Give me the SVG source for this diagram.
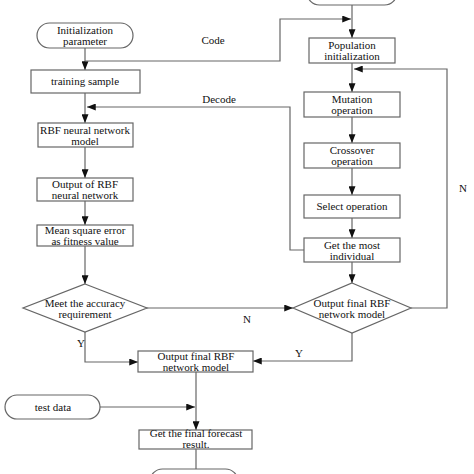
<svg xmlns="http://www.w3.org/2000/svg" width="474" height="474" viewBox="0 0 474 474">
<style>
.n{fill:#fff;stroke:#666;stroke-width:1.2}
.c{fill:none;stroke:#666;stroke-width:1.2}
text{font-family:"Liberation Serif","Times New Roman",serif;font-size:11px;fill:#111;text-anchor:middle}
</style>
<defs>
<marker id="a" viewBox="0 0 10 8" refX="10" refY="4" markerWidth="9" markerHeight="7" markerUnits="userSpaceOnUse" orient="auto">
<path d="M0,0 L10,4 L0,8 z" fill="#111"/>
</marker>
</defs>
<rect width="474" height="474" fill="#fff"/>
<g id="connectors">
<path class="c" d="M85,48 V70" marker-end="url(#a)"/>
<path class="c" d="M85,93 V123" marker-end="url(#a)"/>
<path class="c" d="M85,147 V178" marker-end="url(#a)"/>
<path class="c" d="M85,201 V225" marker-end="url(#a)"/>
<path class="c" d="M85,246 V284" marker-end="url(#a)"/>
<path class="c" d="M85,61 H280 V19 H351" marker-end="url(#a)"/>
<path class="c" d="M352,5 V38" marker-end="url(#a)"/>
<path class="c" d="M352,63 V92" marker-end="url(#a)"/>
<path class="c" d="M352,117 V143" marker-end="url(#a)"/>
<path class="c" d="M352,168 V195" marker-end="url(#a)"/>
<path class="c" d="M352,218 V238" marker-end="url(#a)"/>
<path class="c" d="M352,262 V283" marker-end="url(#a)"/>
<path class="c" d="M304,250 H290 V107 H87" marker-end="url(#a)"/>
<path class="c" d="M146,308 H293" marker-end="url(#a)"/>
<path class="c" d="M411,308 H447 V69 H354" marker-end="url(#a)"/>
<path class="c" d="M352,333 V361 H253" marker-end="url(#a)"/>
<path class="c" d="M85,332 V362 H138" marker-end="url(#a)"/>
<path class="c" d="M196,372 V430" marker-end="url(#a)"/>
<path class="c" d="M100,407 H195" marker-end="url(#a)"/>
<path class="c" d="M196,449 V469"/>
<text x="213" y="44">Code</text>
<text x="219" y="103">Decode</text>
<text x="247" y="323">N</text>
<text x="463" y="192">N</text>
<text x="81" y="347">Y</text>
<text x="299" y="357">Y</text>
</g>
<g id="start">
<rect class="n" x="307" y="-20" width="90" height="25" rx="12.5"/>
</g>
<g id="init">
<rect class="n" x="37" y="23" width="96" height="25" rx="12.5"/>
<text x="85" y="34">Initialization</text>
<text x="85" y="45">parameter</text>
</g>
<g id="train">
<rect class="n" x="31" y="70" width="109" height="23"/>
<text x="85" y="85">training sample</text>
</g>
<g id="rbf">
<rect class="n" x="38" y="123" width="95" height="24"/>
<text x="85" y="134">RBF neural network</text>
<text x="85" y="145">model</text>
</g>
<g id="out">
<rect class="n" x="37" y="178" width="96" height="23"/>
<text x="85" y="188">Output of RBF</text>
<text x="85" y="199">neural network</text>
</g>
<g id="mse">
<rect class="n" x="37" y="225" width="96" height="21"/>
<text x="85" y="234">Mean square error</text>
<text x="85" y="245">as fitness value</text>
</g>
<g id="meet">
<polygon class="n" points="85,284 147,308 85,332 23,308"/>
<text x="85" y="307">Meet the accuracy</text>
<text x="85" y="318">requirement</text>
</g>
<g id="pop">
<rect class="n" x="309" y="38" width="86" height="25"/>
<text x="352" y="49">Population</text>
<text x="352" y="60">initialization</text>
</g>
<g id="mut">
<rect class="n" x="304" y="92" width="96" height="25"/>
<text x="352" y="103">Mutation</text>
<text x="352" y="114">operation</text>
</g>
<g id="cross">
<rect class="n" x="304" y="143" width="96" height="25"/>
<text x="352" y="154">Crossover</text>
<text x="352" y="165">operation</text>
</g>
<g id="select">
<rect class="n" x="304" y="195" width="96" height="23"/>
<text x="352" y="210">Select operation</text>
</g>
<g id="most">
<rect class="n" x="304" y="238" width="96" height="24"/>
<text x="352" y="249">Get the most</text>
<text x="352" y="260">individual</text>
</g>
<g id="outd">
<polygon class="n" points="352,283 411,308 352,333 293,308"/>
<text x="352" y="307">Output final RBF</text>
<text x="352" y="318">network model</text>
</g>
<g id="final">
<rect class="n" x="138" y="351" width="115" height="21"/>
<text x="196" y="360">Output final RBF</text>
<text x="196" y="371">network model</text>
</g>
<g id="test">
<rect class="n" x="5" y="395" width="95" height="24" rx="12"/>
<text x="53" y="411">test data</text>
</g>
<g id="forecast">
<rect class="n" x="139" y="430" width="113" height="19"/>
<text x="196" y="437">Get the final forecast</text>
<text x="196" y="448">result.</text>
</g>
<g id="end">
<rect class="n" x="150" y="469" width="88" height="25" rx="12.5"/>
</g>
</svg>
